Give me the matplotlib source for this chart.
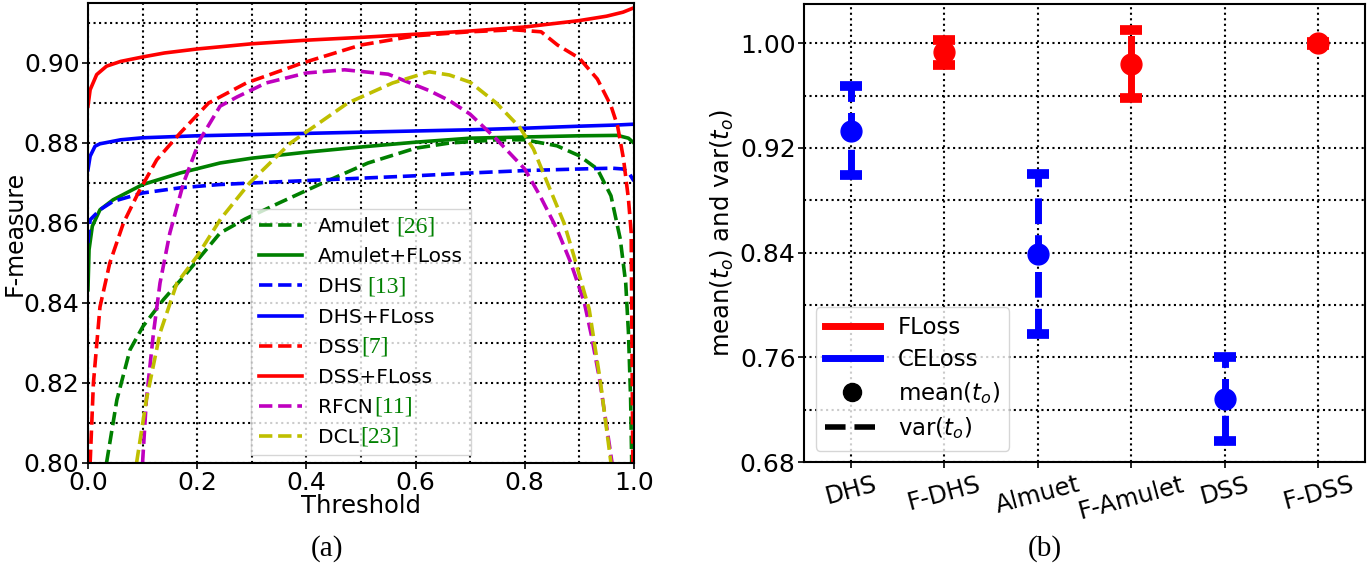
import matplotlib
matplotlib.use('Agg')
import matplotlib.pyplot as plt
from matplotlib.lines import Line2D
from matplotlib.ticker import MultipleLocator, FixedLocator, FormatStrFormatter

# (a) F-measure against threshold
amulet_t = [0.034, 0.053, 0.077, 0.101, 0.138, 0.181, 0.242, 0.288, 0.35, 0.43, 0.513, 0.6, 0.663, 0.75, 0.8,
            0.859, 0.9, 0.933, 0.958, 0.975, 0.985, 0.99, 0.994, 0.996]
amulet_f = [0.800, 0.8158, 0.8283, 0.8342, 0.8408, 0.8475, 0.8575, 0.861, 0.865, 0.870, 0.875, 0.8787, 0.8800, 0.8808,
            0.8808, 0.8793, 0.8768, 0.8735, 0.8668, 0.8560, 0.8450, 0.8327, 0.816, 0.800]

amulet_fl_t = [0, 0.002, 0.008, 0.022, 0.046, 0.1, 0.169, 0.242, 0.3, 0.4, 0.5, 0.6, 0.7, 0.8, 0.9, 0.97, 0.99, 1.0]
amulet_fl_f = [0.8433, 0.8533, 0.8592, 0.8633, 0.8658, 0.8696, 0.8725, 0.8750, 0.8762, 0.8777, 0.8790, 0.8802,
               0.8812, 0.8815, 0.8818, 0.8819, 0.8812, 0.8800]

dhs_t = [0, 0.004, 0.022, 0.046, 0.1, 0.169, 0.24, 0.3, 0.4, 0.5, 0.6, 0.7, 0.8, 0.9, 0.96, 0.98, 0.99, 1.0]
dhs_f = [0.855, 0.8608, 0.8633, 0.8654, 0.8675, 0.8688, 0.8696, 0.8700, 0.8706, 0.8712, 0.8718, 0.8725, 0.8731,
         0.8735, 0.8737, 0.8735, 0.8727, 0.8705]

dhs_fl_t = [0, 0.004, 0.013, 0.022, 0.06, 0.1, 0.2, 0.3, 0.4, 0.5, 0.6, 0.7, 0.8, 0.9, 0.97, 1.0]
dhs_fl_f = [0.8733, 0.8767, 0.8792, 0.8798, 0.8808, 0.8813, 0.8818, 0.8821, 0.8824, 0.8827, 0.8830, 0.8833,
            0.8837, 0.8842, 0.8845, 0.8847]

dss_t = [0.004, 0.01, 0.022, 0.04, 0.065, 0.092, 0.126, 0.169, 0.221, 0.29, 0.393, 0.5, 0.6, 0.7, 0.78, 0.83,
         0.86, 0.9, 0.933, 0.958, 0.97, 0.981, 0.99, 0.995, 0.998]
dss_f = [0.800, 0.820, 0.839, 0.850, 0.860, 0.8675, 0.8758, 0.8825, 0.890, 0.895, 0.900, 0.9045, 0.9068, 0.9078,
         0.9083, 0.9078, 0.9045, 0.9012, 0.896, 0.8893, 0.8843, 0.876, 0.866, 0.8577, 0.800]

dss_fl_t = [0, 0.004, 0.016, 0.034, 0.06, 0.1, 0.14, 0.2, 0.3, 0.4, 0.5, 0.6, 0.7, 0.8, 0.9, 0.95, 0.98, 1.0]
dss_fl_f = [0.8892, 0.8933, 0.8971, 0.8992, 0.9004, 0.9015, 0.9025, 0.9035, 0.9048, 0.9057, 0.9064, 0.9072,
            0.9080, 0.9090, 0.9106, 0.9117, 0.9127, 0.9138]

rfcn_t = [0.1, 0.107, 0.12, 0.132, 0.15, 0.175, 0.205, 0.242, 0.273, 0.326, 0.4, 0.47, 0.55, 0.625, 0.662, 0.7,
          0.748, 0.8, 0.828, 0.859, 0.884, 0.909, 0.922, 0.937, 0.948, 0.96]
rfcn_f = [0.800, 0.8158, 0.8325, 0.845, 0.8575, 0.870, 0.8808, 0.8892, 0.8915, 0.895, 0.8975, 0.8983, 0.8972,
          0.8931, 0.8906, 0.8872, 0.881, 0.8735, 0.8668, 0.8585, 0.8502, 0.8402, 0.832, 0.821, 0.811, 0.800]

dcl_t = [0.089, 0.107, 0.132, 0.163, 0.2, 0.243, 0.296, 0.371, 0.476, 0.558, 0.625, 0.662, 0.7, 0.748, 0.791,
         0.816, 0.841, 0.872, 0.89, 0.909, 0.918, 0.939, 0.958]
dcl_f = [0.800, 0.8158, 0.8325, 0.845, 0.8517, 0.861, 0.870, 0.880, 0.890, 0.895, 0.8978, 0.897, 0.8952, 0.890,
         0.8839, 0.8785, 0.8702, 0.860, 0.8518, 0.8427, 0.8385, 0.82, 0.800]

labels_a = ['Amulet', 'Amulet+FLoss', 'DHS', 'DHS+FLoss', 'DSS', 'DSS+FLoss', 'RFCN', 'DCL']
refs_a = ['[26]', '', '[13]', '', '[7]', '', '[11]', '[23]']
ref_space = [True, False, True, False, False, False, False, False]

# (b) mean and var of the optimal threshold
methods = ['DHS', 'F-DHS', 'Almuet', 'F-Amulet', 'DSS', 'F-DSS']
t_mean = [0.933, 0.993, 0.839, 0.984, 0.728, 1.000]
t_var = [0.034, 0.0095, 0.061, 0.026, 0.032, 0.001]
use_floss = [False, True, False, True, False, True]
b_ticks = [0.68, 0.76, 0.84, 0.92, 1.00]
b_minor = [0.72, 0.80, 0.88, 0.96]

fig = plt.figure(figsize=(13.7, 5.74), dpi=100)
ax1 = fig.add_axes([0.0642, 0.1934, 0.3985, 0.8014])
ax2 = fig.add_axes([0.5869, 0.1951, 0.4095, 0.7979])

lw = 2.6
ax1.plot(amulet_t, amulet_f, color='g', ls='--', lw=lw)
ax1.plot(amulet_fl_t, amulet_fl_f, color='g', ls='-', lw=lw)
ax1.plot(dhs_t, dhs_f, color='b', ls='--', lw=lw)
ax1.plot(dhs_fl_t, dhs_fl_f, color='b', ls='-', lw=lw)
ax1.plot(dss_t, dss_f, color='r', ls='--', lw=lw)
ax1.plot(dss_fl_t, dss_fl_f, color='r', ls='-', lw=lw)
ax1.plot(rfcn_t, rfcn_f, color='m', ls='--', lw=lw)
ax1.plot(dcl_t, dcl_f, color='y', ls='--', lw=lw)

ax1.set_xlim(0, 1.0)
ax1.set_ylim(0.80, 0.915)
ax1.xaxis.set_major_locator(MultipleLocator(0.2))
ax1.xaxis.set_minor_locator(MultipleLocator(0.1))
ax1.yaxis.set_major_locator(MultipleLocator(0.02))
ax1.yaxis.set_minor_locator(MultipleLocator(0.01))
ax1.xaxis.set_major_formatter(FormatStrFormatter('%.1f'))
ax1.yaxis.set_major_formatter(FormatStrFormatter('%.2f'))
ax1.grid(True, which='both', color='k', ls=':', lw=1.5)
ax1.tick_params(which='major', labelsize=18, length=4, width=1.2, pad=2)
ax1.tick_params(which='minor', length=0)
ax1.set_xlabel('Threshold', fontsize=17.5, labelpad=-1)
ax1.set_ylabel('F-measure', fontsize=17, labelpad=-2)
for s in ax1.spines.values():
    s.set_linewidth(1.5)

leg1 = ax1.legend(labels_a, loc='lower center', fontsize=14.5, labelspacing=0.55,
                  handlelength=2.1, borderaxespad=0.4, fancybox=False)
leg1.get_frame().set_edgecolor('#cccccc')

# right plot
for i in range(len(methods)):
    c = 'r' if use_floss[i] else 'b'
    pts = ax2.errorbar([i], [t_mean[i]], yerr=[t_var[i]], fmt='o', color=c, ms=15,
                       elinewidth=5, capsize=8, capthick=7, zorder=3)
    pts[2][0].set_linestyle('--')

ax2.set_xlim(-0.5, 5.5)
ax2.set_ylim(0.68, 1.03)
ax2.set_xticks(range(len(methods)))
ax2.set_xticklabels(methods, rotation=15, fontsize=17.5)
ax2.yaxis.set_major_locator(FixedLocator(b_ticks))
ax2.yaxis.set_minor_locator(FixedLocator(b_minor))
ax2.yaxis.set_major_formatter(FormatStrFormatter('%.2f'))
ax2.grid(True, which='both', color='k', ls=':', lw=1.5)
ax2.tick_params(axis='y', which='major', labelsize=18, length=4, width=1.2, pad=2)
ax2.tick_params(axis='x', which='major', length=4, width=1.2)
ax2.tick_params(which='minor', length=0)
ax2.set_ylabel('mean($t_o$) and var($t_o$)', fontsize=17.5, labelpad=3)
for s in ax2.spines.values():
    s.set_linewidth(1.5)

handles = [Line2D([], [], color='r', lw=5),
           Line2D([], [], color='b', lw=5),
           Line2D([], [], color='k', marker='o', ls='none', ms=13),
           Line2D([], [], color='k', ls='--', lw=4)]
ax2.legend(handles, ['FLoss', 'CELoss', 'mean($t_o$)', 'var($t_o$)'], loc='lower left',
           fontsize=16.5, handlelength=2.4, labelspacing=0.4)

fig.text(0.2387, 0.045, '(a)', fontsize=21, family='Liberation Serif', ha='center', va='center')
fig.text(0.7628, 0.045, '(b)', fontsize=21, family='Liberation Serif', ha='center', va='center')

# green citation numbers after the legend labels
fig.canvas.draw()
r = fig.canvas.get_renderer()
W, H = fig.bbox.width, fig.bbox.height
for txt, ref, sp in zip(leg1.get_texts(), refs_a, ref_space):
    if not ref:
        continue
    bb = txt.get_window_extent(r)
    gap = 6 if sp else 2
    fig.text((bb.x1 + gap) / W, (bb.y0 + bb.y1) / 2 / H, ref, color='g', fontsize=17,
             family='Liberation Serif', ha='left', va='center')

fig.savefig('out.png', dpi=100)
